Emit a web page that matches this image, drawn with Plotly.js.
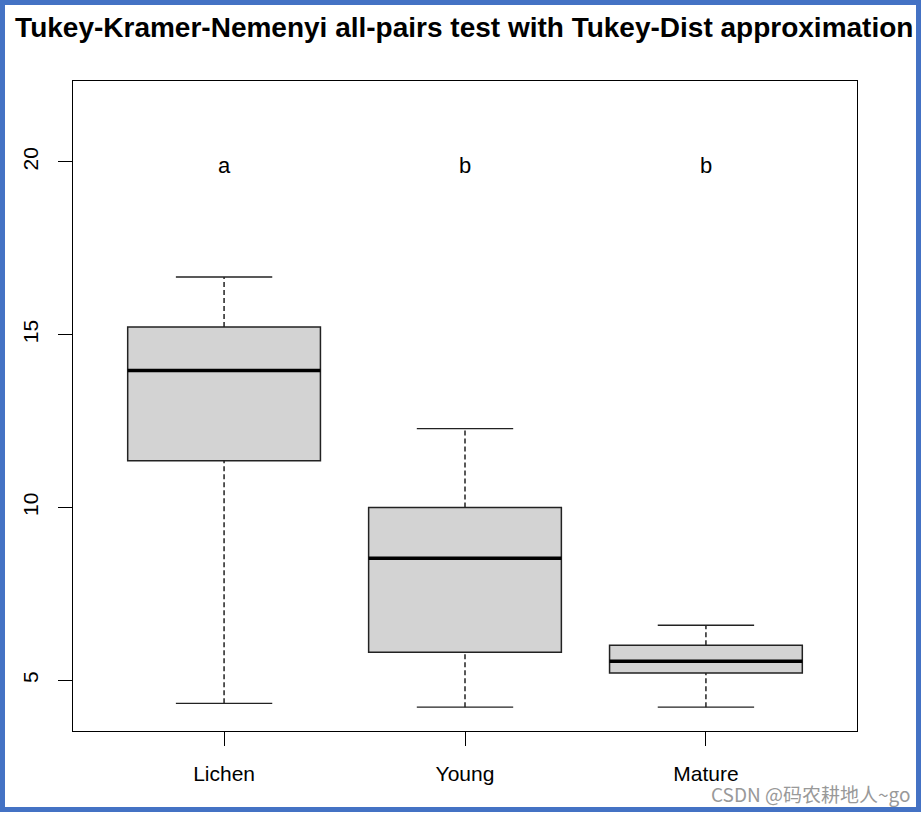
<!DOCTYPE html>
<html>
<head>
<meta charset="utf-8">
<script src="https://cdn.plot.ly/plotly-3.0.1.min.js"></script>
<style>
html,body{margin:0;padding:0;background:#fff;}
#wrap{position:relative;width:923px;height:813px;}
#chart{width:923px;height:813px;}
#frame{position:absolute;left:0px;top:0px;width:911px;height:802px;border:5px solid #4472C4;pointer-events:none;}
</style>
</head>
<body>
<div id="wrap"><div id="chart"></div><div id="frame"></div></div>
<script>
const categories = ["Lichen", "Young", "Mature"];
const lowerWhisker = [4.33, 4.22, 4.22];
const q1 = [11.35, 5.81, 5.21];
const median = [13.96, 8.53, 5.55];
const q3 = [15.22, 10.0, 6.01];
const upperWhisker = [16.67, 12.28, 6.59];
const groupLetters = ["a", "b", "b"];
const letterY = 20;

const pos = categories.map((c, i) => i + 1);
const BOXW = 0.8, CAPW = 0.4;
const traces = [];

traces.push({
  type: "box",
  x: pos,
  q1: q1, median: median, q3: q3,
  lowerfence: q1, upperfence: q3,
  width: BOXW,
  fillcolor: "#D3D3D3",
  line: {color: "#222", width: 1.5},
  whiskerwidth: 0,
  boxpoints: false,
  hoverinfo: "skip",
  showlegend: false
});

categories.forEach((c, i) => {
  const p = pos[i];
  traces.push({type: "scatter", mode: "lines", x: [p, p], y: [q3[i], upperWhisker[i]],
    line: {color: "#222", width: 1.5, dash: "5px,3px"}, hoverinfo: "skip", showlegend: false});
  traces.push({type: "scatter", mode: "lines", x: [p, p], y: [lowerWhisker[i], q1[i]],
    line: {color: "#222", width: 1.5, dash: "5px,3px"}, hoverinfo: "skip", showlegend: false});
  traces.push({type: "scatter", mode: "lines", x: [p - CAPW/2, p + CAPW/2], y: [upperWhisker[i], upperWhisker[i]],
    line: {color: "#222", width: 1.4}, hoverinfo: "skip", showlegend: false});
  traces.push({type: "scatter", mode: "lines", x: [p - CAPW/2, p + CAPW/2], y: [lowerWhisker[i], lowerWhisker[i]],
    line: {color: "#222", width: 1.4}, hoverinfo: "skip", showlegend: false});
  traces.push({type: "scatter", mode: "lines", x: [p - BOXW/2, p + BOXW/2], y: [median[i], median[i]],
    line: {color: "#000", width: 3.5}, hoverinfo: "skip", showlegend: false});
});

const letterAnnotations = pos.map((p, i) => ({
  text: groupLetters[i], xref: "x", yref: "y", x: p, y: letterY, yshift: -4,
  showarrow: false, xanchor: "center", yanchor: "middle",
  font: {family: "Liberation Sans, Arial", size: 22, color: "#000"}
}));

const layout = {
  width: 923, height: 813,
  margin: {l: 73, r: 66, t: 81, b: 82},
  paper_bgcolor: "#fff", plot_bgcolor: "#fff",
  title: {text: "<b>Tukey-Kramer-Nemenyi all-pairs test with Tukey-Dist approximation</b>",
    font: {family: "Liberation Sans, Arial", size: 28, color: "#000"},
    x: 0.503, xanchor: "center", y: 0.967, yanchor: "middle"},
  xaxis: {range: [0.373, 3.627], tickmode: "array", tickvals: pos, ticktext: categories,
    showgrid: false, zeroline: false, showline: true, mirror: true, linecolor: "#000", linewidth: 1,
    ticks: "outside", ticklen: 14, tickcolor: "#000", tickwidth: 1,
    tickfont: {family: "Liberation Sans, Arial", size: 21, color: "#000"}, ticklabelstandoff: 10},
  yaxis: {range: [3.53, 22.34], tickmode: "array", tickvals: [5, 10, 15, 20],
    showgrid: false, zeroline: false, showline: true, mirror: true, linecolor: "#000", linewidth: 1,
    ticks: "outside", ticklen: 14, tickcolor: "#000", tickwidth: 1, tickangle: -90,
    tickfont: {family: "Liberation Sans, Arial", size: 21, color: "#000"}, ticklabelstandoff: 12},
  annotations: letterAnnotations.concat([{text: "CSDN @码农耕地人~go", xref: "paper", yref: "paper",
    x: 1.0705, y: -0.0955,
    xanchor: "right", yanchor: "middle", showarrow: false,
    font: {family: "Noto Sans CJK SC", size: 19, color: "#999"}}])
};

Plotly.newPlot("chart", traces, layout, {displayModeBar: false, staticPlot: true});
</script>
</body>
</html>
